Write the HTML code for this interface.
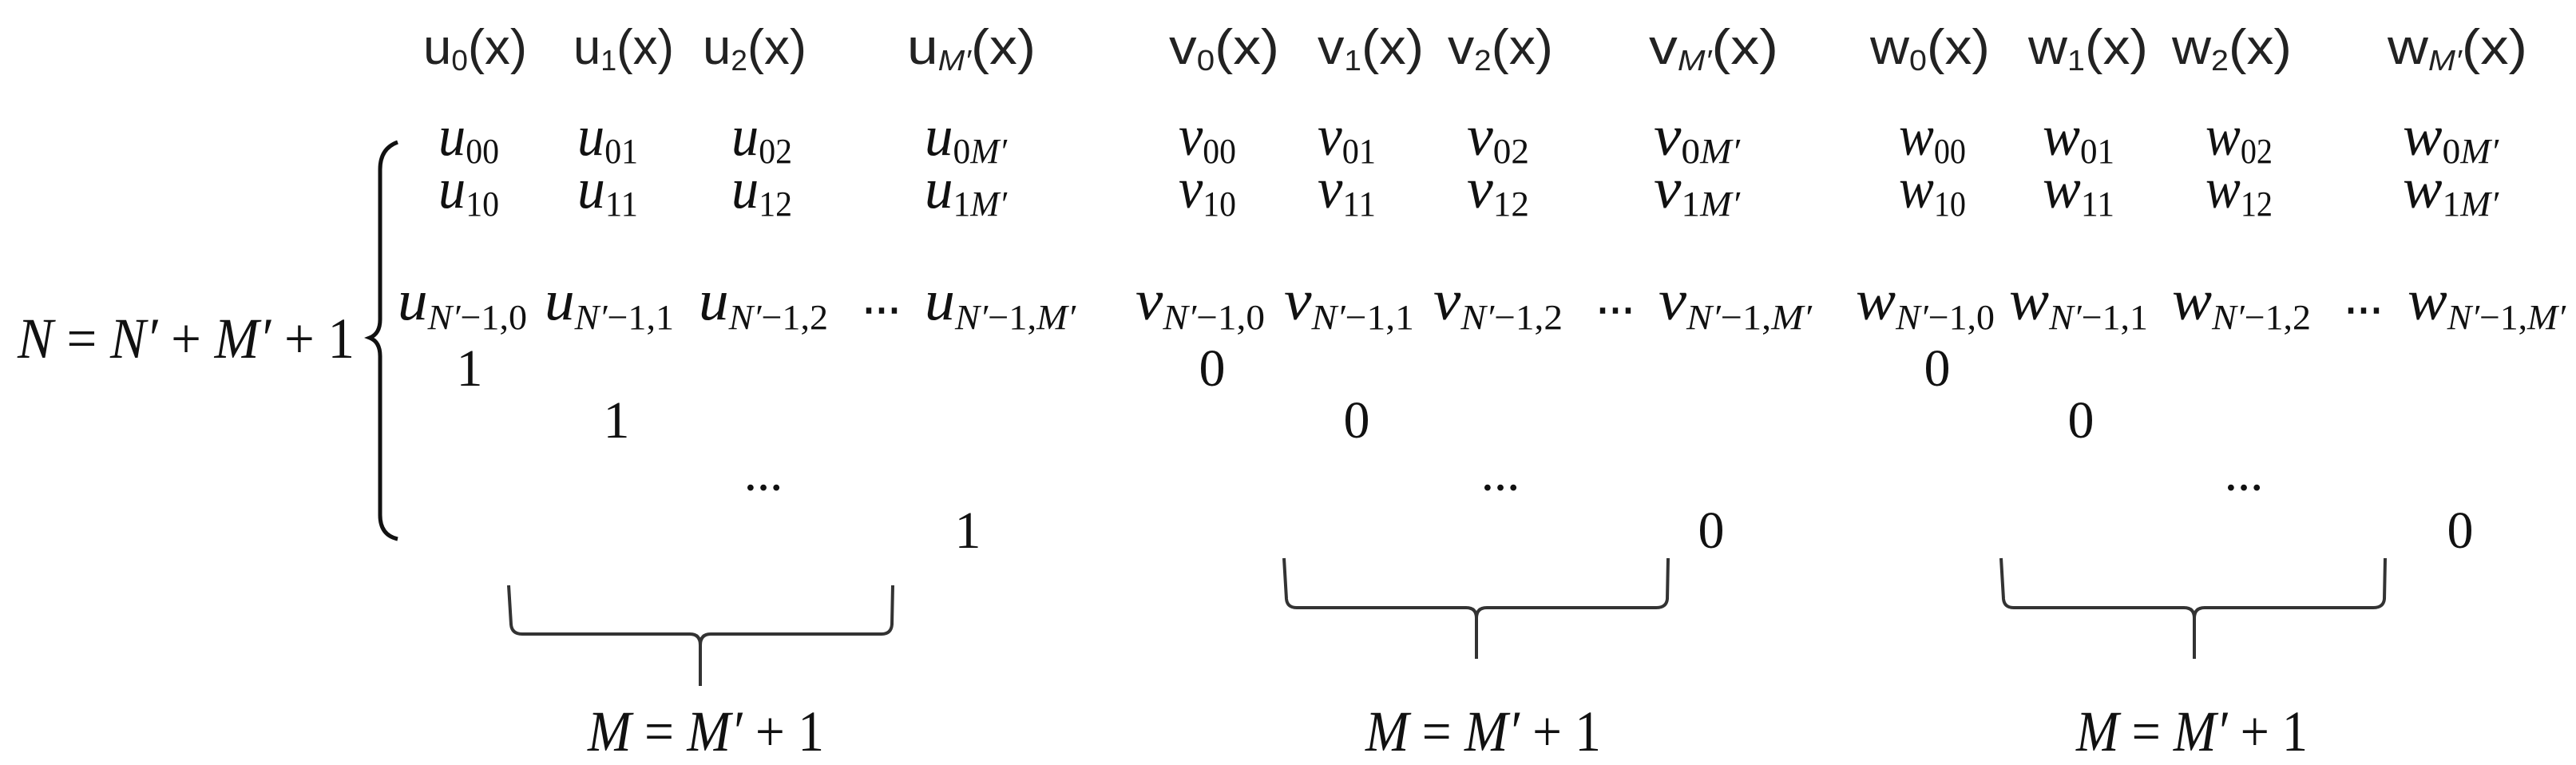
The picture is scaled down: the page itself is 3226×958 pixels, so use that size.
<!DOCTYPE html>
<html><head><meta charset="utf-8"><style>
html,body{margin:0;padding:0;background:#fff;width:3226px;height:958px;overflow:hidden}
svg{display:block}
.m{font-family:"Liberation Serif",serif;font-style:italic;font-size:72px;fill:#111}
.s{font-size:44px;font-style:normal}
.si{font-size:44px;font-style:italic}
.h{font-family:"Liberation Sans Narrow","Liberation Sans",sans-serif;font-size:62px;fill:#222}
.hs{font-size:36px}
.n{font-family:"Liberation Serif",serif;font-size:66px;fill:#111}
.mi{font-family:"Liberation Serif",serif;font-style:italic;font-size:72px;fill:#111}
</style></head><body>
<svg width="3226" height="958" viewBox="0 0 3226 958" xmlns="http://www.w3.org/2000/svg">
<g class="h">
<text x="530" y="80" textLength="130" lengthAdjust="spacingAndGlyphs">u<tspan class="hs" dy="8">0</tspan><tspan dy="-8">(x)</tspan></text>
<text x="718" y="80" textLength="126" lengthAdjust="spacingAndGlyphs">u<tspan class="hs" dy="8">1</tspan><tspan dy="-8">(x)</tspan></text>
<text x="880" y="80" textLength="130" lengthAdjust="spacingAndGlyphs">u<tspan class="hs" dy="8">2</tspan><tspan dy="-8">(x)</tspan></text>
<text x="1136" y="80" textLength="161" lengthAdjust="spacingAndGlyphs">u<tspan class="hs" dy="8" font-style="italic">M′</tspan><tspan dy="-8">(x)</tspan></text>
<text x="1464" y="80" textLength="138" lengthAdjust="spacingAndGlyphs">v<tspan class="hs" dy="8">0</tspan><tspan dy="-8">(x)</tspan></text>
<text x="1650" y="80" textLength="133" lengthAdjust="spacingAndGlyphs">v<tspan class="hs" dy="8">1</tspan><tspan dy="-8">(x)</tspan></text>
<text x="1813" y="80" textLength="132" lengthAdjust="spacingAndGlyphs">v<tspan class="hs" dy="8">2</tspan><tspan dy="-8">(x)</tspan></text>
<text x="2065" y="80" textLength="162" lengthAdjust="spacingAndGlyphs">v<tspan class="hs" dy="8" font-style="italic">M′</tspan><tspan dy="-8">(x)</tspan></text>
<text x="2342" y="80" textLength="150" lengthAdjust="spacingAndGlyphs">w<tspan class="hs" dy="8">0</tspan><tspan dy="-8">(x)</tspan></text>
<text x="2540" y="80" textLength="150" lengthAdjust="spacingAndGlyphs">w<tspan class="hs" dy="8">1</tspan><tspan dy="-8">(x)</tspan></text>
<text x="2720" y="80" textLength="150" lengthAdjust="spacingAndGlyphs">w<tspan class="hs" dy="8">2</tspan><tspan dy="-8">(x)</tspan></text>
<text x="2990" y="80" textLength="175" lengthAdjust="spacingAndGlyphs">w<tspan class="hs" dy="8" font-style="italic">M′</tspan><tspan dy="-8">(x)</tspan></text>
</g>
<g class="m">
<text x="549" y="194" textLength="76" lengthAdjust="spacingAndGlyphs">u<tspan class="s" dy="10">00</tspan></text>
<text x="723" y="194" textLength="76" lengthAdjust="spacingAndGlyphs">u<tspan class="s" dy="10">01</tspan></text>
<text x="916" y="194" textLength="76" lengthAdjust="spacingAndGlyphs">u<tspan class="s" dy="10">02</tspan></text>
<text x="1158" y="194" textLength="103" lengthAdjust="spacingAndGlyphs">u<tspan class="s" dy="10">0</tspan><tspan class="si">M′</tspan></text>
<text x="549" y="260" textLength="76" lengthAdjust="spacingAndGlyphs">u<tspan class="s" dy="10">10</tspan></text>
<text x="723" y="260" textLength="76" lengthAdjust="spacingAndGlyphs">u<tspan class="s" dy="10">11</tspan></text>
<text x="916" y="260" textLength="76" lengthAdjust="spacingAndGlyphs">u<tspan class="s" dy="10">12</tspan></text>
<text x="1158" y="260" textLength="103" lengthAdjust="spacingAndGlyphs">u<tspan class="s" dy="10">1</tspan><tspan class="si">M′</tspan></text>
<text x="498" y="400" textLength="162" lengthAdjust="spacingAndGlyphs">u<tspan class="si" dy="12">N′</tspan><tspan class="s">−1,0</tspan></text>
<text x="682" y="400" textLength="162" lengthAdjust="spacingAndGlyphs">u<tspan class="si" dy="12">N′</tspan><tspan class="s">−1,1</tspan></text>
<text x="875" y="400" textLength="162" lengthAdjust="spacingAndGlyphs">u<tspan class="si" dy="12">N′</tspan><tspan class="s">−1,2</tspan></text>
<text x="1158" y="400" textLength="189" lengthAdjust="spacingAndGlyphs">u<tspan class="si" dy="12">N′</tspan><tspan class="s">−1,</tspan><tspan class="si">M′</tspan></text>
<text x="1476" y="194" textLength="72" lengthAdjust="spacingAndGlyphs">v<tspan class="s" dy="10">00</tspan></text>
<text x="1650" y="194" textLength="73" lengthAdjust="spacingAndGlyphs">v<tspan class="s" dy="10">01</tspan></text>
<text x="1837" y="194" textLength="78" lengthAdjust="spacingAndGlyphs">v<tspan class="s" dy="10">02</tspan></text>
<text x="2071" y="194" textLength="108" lengthAdjust="spacingAndGlyphs">v<tspan class="s" dy="10">0</tspan><tspan class="si">M′</tspan></text>
<text x="1476" y="260" textLength="72" lengthAdjust="spacingAndGlyphs">v<tspan class="s" dy="10">10</tspan></text>
<text x="1650" y="260" textLength="73" lengthAdjust="spacingAndGlyphs">v<tspan class="s" dy="10">11</tspan></text>
<text x="1837" y="260" textLength="78" lengthAdjust="spacingAndGlyphs">v<tspan class="s" dy="10">12</tspan></text>
<text x="2071" y="260" textLength="108" lengthAdjust="spacingAndGlyphs">v<tspan class="s" dy="10">1</tspan><tspan class="si">M′</tspan></text>
<text x="1422" y="400" textLength="162" lengthAdjust="spacingAndGlyphs">v<tspan class="si" dy="12">N′</tspan><tspan class="s">−1,0</tspan></text>
<text x="1608" y="400" textLength="163" lengthAdjust="spacingAndGlyphs">v<tspan class="si" dy="12">N′</tspan><tspan class="s">−1,1</tspan></text>
<text x="1795" y="400" textLength="162" lengthAdjust="spacingAndGlyphs">v<tspan class="si" dy="12">N′</tspan><tspan class="s">−1,2</tspan></text>
<text x="2077" y="400" textLength="192" lengthAdjust="spacingAndGlyphs">v<tspan class="si" dy="12">N′</tspan><tspan class="s">−1,</tspan><tspan class="si">M′</tspan></text>
<text x="2378" y="194" textLength="84" lengthAdjust="spacingAndGlyphs">w<tspan class="s" dy="10">00</tspan></text>
<text x="2558" y="194" textLength="90" lengthAdjust="spacingAndGlyphs">w<tspan class="s" dy="10">01</tspan></text>
<text x="2762" y="194" textLength="84" lengthAdjust="spacingAndGlyphs">w<tspan class="s" dy="10">02</tspan></text>
<text x="3009" y="194" textLength="120" lengthAdjust="spacingAndGlyphs">w<tspan class="s" dy="10">0</tspan><tspan class="si">M′</tspan></text>
<text x="2378" y="260" textLength="84" lengthAdjust="spacingAndGlyphs">w<tspan class="s" dy="10">10</tspan></text>
<text x="2558" y="260" textLength="90" lengthAdjust="spacingAndGlyphs">w<tspan class="s" dy="10">11</tspan></text>
<text x="2762" y="260" textLength="84" lengthAdjust="spacingAndGlyphs">w<tspan class="s" dy="10">12</tspan></text>
<text x="3009" y="260" textLength="120" lengthAdjust="spacingAndGlyphs">w<tspan class="s" dy="10">1</tspan><tspan class="si">M′</tspan></text>
<text x="2324" y="400" textLength="174" lengthAdjust="spacingAndGlyphs">w<tspan class="si" dy="12">N′</tspan><tspan class="s">−1,0</tspan></text>
<text x="2516" y="400" textLength="174" lengthAdjust="spacingAndGlyphs">w<tspan class="si" dy="12">N′</tspan><tspan class="s">−1,1</tspan></text>
<text x="2720" y="400" textLength="174" lengthAdjust="spacingAndGlyphs">w<tspan class="si" dy="12">N′</tspan><tspan class="s">−1,2</tspan></text>
<text x="3015" y="400" textLength="198" lengthAdjust="spacingAndGlyphs">w<tspan class="si" dy="12">N′</tspan><tspan class="s">−1,</tspan><tspan class="si">M′</tspan></text>
</g>
<g class="n" text-anchor="middle">
<text x="1104" y="404" font-size="48" font-weight="bold">⋯</text>
<text x="2023" y="404" font-size="48" font-weight="bold">⋯</text>
<text x="2960" y="404" font-size="48" font-weight="bold">⋯</text>
<text x="588" y="483">1</text>
<text x="772" y="548">1</text>
<text x="956" y="614" font-size="48" font-weight="bold">…</text>
<text x="1212" y="686">1</text>
<text x="1518" y="483">0</text>
<text x="1699" y="548">0</text>
<text x="1879" y="614" font-size="48" font-weight="bold">…</text>
<text x="2143" y="686">0</text>
<text x="2426" y="483">0</text>
<text x="2606" y="548">0</text>
<text x="2810" y="614" font-size="48" font-weight="bold">…</text>
<text x="3081" y="686">0</text>
</g>
<text class="mi" x="22" y="448" textLength="422" lengthAdjust="spacingAndGlyphs">N <tspan font-style="normal">=</tspan> N′ <tspan font-style="normal">+</tspan> M′ <tspan font-style="normal">+ 1</tspan></text>
<text class="mi" x="736" y="940" textLength="296" lengthAdjust="spacingAndGlyphs">M <tspan font-style="normal">=</tspan> M′ <tspan font-style="normal">+ 1</tspan></text>
<text class="mi" x="1710" y="940" textLength="295" lengthAdjust="spacingAndGlyphs">M <tspan font-style="normal">=</tspan> M′ <tspan font-style="normal">+ 1</tspan></text>
<text class="mi" x="2600" y="940" textLength="290" lengthAdjust="spacingAndGlyphs">M <tspan font-style="normal">=</tspan> M′ <tspan font-style="normal">+ 1</tspan></text>
<g fill="none" stroke="#111" stroke-width="5">
<path d="M498 178 Q476 186 476 212 L476 400 Q476 418 463 423 Q476 428 476 446 L476 645 Q476 670 498 675"/>
</g>
<g fill="none" stroke="#333" stroke-width="4">
<path d="M637 733 L640 782 Q641 794 654 794 L864 794 Q877 794 877 808 L877 859 M877 808 Q877 794 890 794 L1104 794 Q1116 794 1117 782 L1118 733"/>
<path d="M1608 699 L1611 750 Q1612 761 1624 761 L1836 761 Q1849 761 1849 774 L1849 825 M1849 774 Q1849 761 1862 761 L2074 761 Q2087 761 2088 750 L2089 699"/>
<path d="M2506 699 L2509 750 Q2510 761 2522 761 L2735 761 Q2748 761 2748 774 L2748 825 M2748 774 Q2748 761 2761 761 L2972 761 Q2985 761 2986 750 L2987 699"/>
</g>
</svg>
</body></html>
